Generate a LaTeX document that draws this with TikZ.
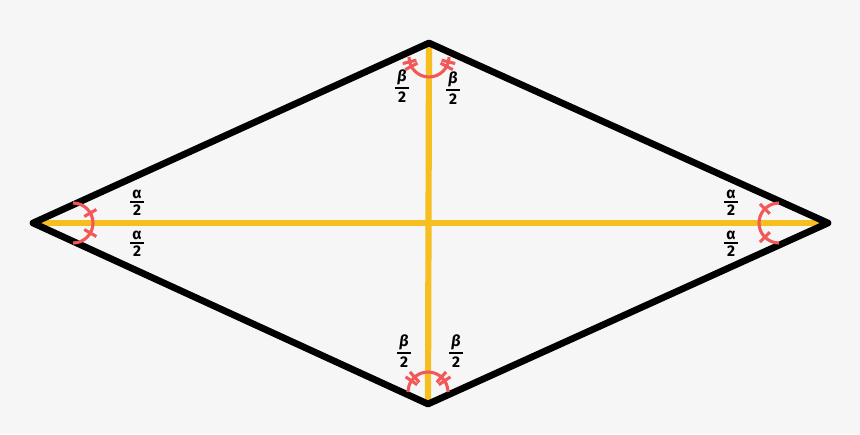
\documentclass[tikz,border=0pt]{standalone}
\usepackage{fontspec}
\setmainfont{Fira Sans}
\usepackage{tikz}

\definecolor{paper}{RGB}{246,246,246}
\definecolor{diaggold}{RGB}{246,190,30}
\definecolor{markred}{RGB}{243,88,88}
\newcommand{\halfof}[1]{\bfseries$\vcenter{\hbox to 0.85em{\hss#1\hss}\kern1.6pt
  \hrule height 1.1pt\kern1.8pt\hbox to 0.85em{\hss 2\hss}}$}

\begin{document}
\begin{tikzpicture}[x=0.025cm,y=-0.025cm,line join=round,
                    edge/.style={draw=black,line width=4.8pt},
                    diag/.style={draw=diaggold,line width=4.4pt},
                    angmark/.style={draw=markred,line width=2.2pt},
                    frac/.style={font=\fontsize{11}{13}\selectfont,inner sep=1pt}]
  \fill[paper] (0,0) rectangle (860,434);

  \coordinate (L) at (33,223);
  \coordinate (T) at (429,43);
  \coordinate (R) at (828,223);
  \coordinate (B) at (428,404);

  \coordinate (cL) at (73,223);   % centre of the left arc
  \coordinate (cR) at (779,223);  % centre of the right arc
  \coordinate (cT) at (429,57);   % centre of the top arc
  \coordinate (cB) at (428,392);  % centre of the bottom arc

  \draw[diag] (L) -- (R);
  \draw[diag] (T) -- (B);
  \draw[edge] (L) -- (T) -- (R) -- (B) -- cycle;

  % alpha arcs, one tick each half
  \draw[angmark] ([shift={(-90:20)}]cL) arc[start angle=-90,end angle=90,radius=20];
  \draw[angmark] ([shift={(90:20)}]cR) arc[start angle=90,end angle=270,radius=20];
  \foreach \a in {-30,30}
    \draw[angmark] ([shift={(\a:13)}]cL) -- ([shift={(\a:27)}]cL);
  \foreach \a in {135,225}
    \draw[angmark] ([shift={(\a:13)}]cR) -- ([shift={(\a:27)}]cR);

  % beta arcs, two ticks each half
  \draw[angmark] ([shift={(0:20)}]cT) arc[start angle=0,end angle=180,radius=20];
  \draw[angmark] ([shift={(180:20)}]cB) arc[start angle=180,end angle=360,radius=20];
  \foreach \a in {14,28,152,166}
    \draw[angmark] ([shift={(\a:13)}]cT) -- ([shift={(\a:27)}]cT);
  \foreach \a in {214,228,312,326}
    \draw[angmark] ([shift={(\a:13)}]cB) -- ([shift={(\a:27)}]cB);

  \node[frac] (la1) at (137,203) {\halfof{α}};
  \node[frac] (la2) at (137,244) {\halfof{α}};
  \node[frac] (ra1) at (731,203) {\halfof{α}};
  \node[frac] (ra2) at (731,244) {\halfof{α}};
  \node[frac] (tb1) at (402,86)  {\halfof{\itshape β}};
  \node[frac] (tb2) at (453,88)  {\halfof{\itshape β}};
  \node[frac] (bb1) at (404,351) {\halfof{\itshape β}};
  \node[frac] (bb2) at (456,351) {\halfof{\itshape β}};
\end{tikzpicture}
\end{document}
